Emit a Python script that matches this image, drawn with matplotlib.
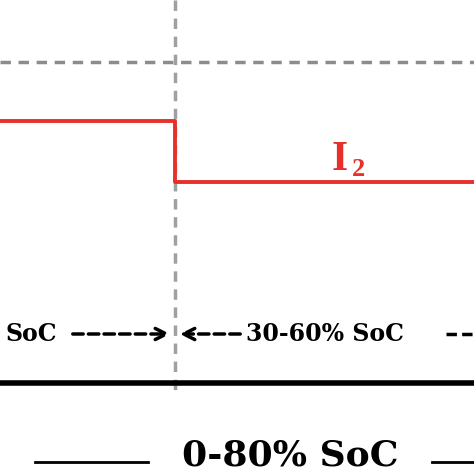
import matplotlib
matplotlib.use("Agg")
import matplotlib.pyplot as plt

# data (pixel-like diagram coordinates)
step_x = [0, 175, 175, 474]
step_y = [121, 121, 182, 182]
boundary_x = [175]
ref_level = [62]
labels = ["SoC", "30-60% SoC", "0-80% SoC"]

fig = plt.figure(figsize=(4.74, 4.74), dpi=100)
ax = fig.add_axes([0, 0, 1, 1])
ax.set_xlim(0, 474); ax.set_ylim(474, 0); ax.axis("off")
serif = "DejaVu Serif"

ax.axhline(ref_level[0], color="#8c8c8c", lw=2.5, ls=(0, (3, 2.2)))
ax.plot([boundary_x[0]]*2, [0, 390], color="#a0a0a0", lw=2.5, ls=(0, (3, 2.2)))
ax.plot(step_x, step_y, color="#e8302a", lw=2.8)
ax.text(340, 160, "I", color="#e8302a", fontsize=30, fontweight="bold", family="Liberation Serif", ha="center", va="center")
ax.text(359, 170, "2", color="#e8302a", fontsize=19, fontweight="bold", family="Liberation Serif", ha="center", va="center")
ax.axhline(383, color="black", lw=4)

ax.text(6, 334, labels[0], fontsize=17, fontweight="bold", family=serif, ha="left", va="center")
ax.annotate("", xy=(173, 334), xytext=(70, 334),
            arrowprops=dict(arrowstyle="->", lw=2.5, ls=(0, (3, 1.5)), color="black", mutation_scale=20))
ax.annotate("", xy=(177, 334), xytext=(243, 334),
            arrowprops=dict(arrowstyle="->", lw=2.5, ls=(0, (3, 1.5)), color="black", mutation_scale=20))
ax.text(246, 334, labels[1], fontsize=17, fontweight="bold", family=serif, ha="left", va="center")
ax.plot([446, 474], [334, 334], color="black", lw=2.5, ls=(0, (3, 1.5)))

ax.text(290, 456, labels[2], fontsize=26, fontweight="bold", family=serif, ha="center", va="center")
ax.plot([35, 148], [462, 462], color="black", lw=2)
ax.plot([432, 474], [462, 462], color="black", lw=2)

fig.savefig("out.png", dpi=100, facecolor="white")
